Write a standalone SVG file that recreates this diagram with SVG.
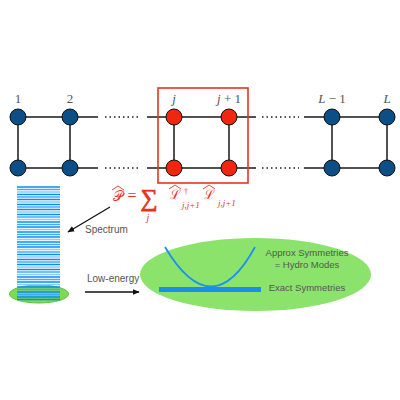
<svg xmlns="http://www.w3.org/2000/svg" width="400" height="400" viewBox="0 0 400 400">
<defs>
<style>
.edge{stroke:#1a1a1a;stroke-width:1.5;fill:none}
.dots{stroke:#1a1a1a;stroke-width:1.6;fill:none;stroke-dasharray:1.5 3}
.bn{fill:#0b4f86;stroke:#111;stroke-width:1}
.rn{fill:#f0260f;stroke:#111;stroke-width:1}
.lab{font-family:"Liberation Serif",serif;font-size:13px;fill:#555}
.it{font-style:italic}
.fr{font-family:"Liberation Serif","DejaVu Serif",serif;fill:#e8321e}
.sc{font-family:"DejaVu Serif","Liberation Serif",serif;fill:#e8321e}
.hat{stroke:#e8321e;stroke-width:0.9;fill:none}
.gt{font-family:"Liberation Sans",Arial,sans-serif;fill:#555}
.s1{stroke:#0a8cf0;stroke-width:1.3}
.s2{stroke:#45aaff;stroke-width:1.3}
.s3{stroke:#8ccaff;stroke-width:1.3}
</style>
<marker id="ah" viewBox="0 0 10 10" refX="9" refY="5" markerWidth="7" markerHeight="7" orient="auto" markerUnits="userSpaceOnUse">
<path d="M0,1 L10,5 L0,9 z" fill="#111"/>
</marker>
</defs>
<rect width="400" height="400" fill="#fff"/>

<g id="connectors">
<path class="edge" d="M18,117 H98 M147,117 H256 M304,117 H387 M18,168 H98 M147,168 H256 M304,168 H387"/>
<path class="edge" d="M18,117 V168 M70,117 V168 M174,117 V168 M229,117 V168 M332,117 V168 M387,117 V168"/>
<path class="dots" d="M105,117 H138 M105,168 H138 M262,117 H299 M262,168 H299"/>
<line x1="110" y1="207" x2="68" y2="232" stroke="#111" stroke-width="1.3" marker-end="url(#ah)"/>
<line x1="85" y1="292" x2="139" y2="292" stroke="#111" stroke-width="1.3" marker-end="url(#ah)"/>
</g>

<g id="box">
<rect x="158" y="88" width="90" height="95" fill="none" stroke="#e8321e" stroke-width="1.6"/>
</g>

<g id="node-1"><circle class="bn" cx="18" cy="117" r="8"/><text class="lab" x="18" y="103" text-anchor="middle">1</text></g>
<g id="node-1b"><circle class="bn" cx="18" cy="168" r="8"/></g>
<g id="node-2"><circle class="bn" cx="70" cy="117" r="8"/><text class="lab" x="70" y="103" text-anchor="middle">2</text></g>
<g id="node-2b"><circle class="bn" cx="70" cy="168" r="8"/></g>
<g id="node-j"><circle class="rn" cx="174" cy="117" r="8"/><text class="lab it" x="174" y="103" text-anchor="middle">j</text></g>
<g id="node-jb"><circle class="rn" cx="174" cy="168" r="8"/></g>
<g id="node-j1"><circle class="rn" cx="229" cy="117" r="8"/><text class="lab" x="229" y="103" text-anchor="middle"><tspan class="it">j</tspan> + 1</text></g>
<g id="node-j1b"><circle class="rn" cx="229" cy="168" r="8"/></g>
<g id="node-L1"><circle class="bn" cx="332" cy="117" r="8"/><text class="lab" x="332" y="103" text-anchor="middle"><tspan class="it">L</tspan> − 1</text></g>
<g id="node-L1b"><circle class="bn" cx="332" cy="168" r="8"/></g>
<g id="node-L"><circle class="bn" cx="387" cy="117" r="8"/><text class="lab it" x="387" y="103" text-anchor="middle">L</text></g>
<g id="node-Lb"><circle class="bn" cx="387" cy="168" r="8"/></g>

<g id="formula">
<text class="sc" x="118" y="201" font-size="14" text-anchor="middle">𝒫</text>
<path class="hat" d="M112,190 L118,186 L124,190"/>
<text class="fr" x="132" y="201" font-size="16" text-anchor="middle">=</text>
<text class="fr" x="149" y="206" font-size="24" text-anchor="middle" stroke="#e8321e" stroke-width="0.8">∑</text>
<text class="fr it" x="148" y="221" font-size="10" text-anchor="middle">j</text>
<text class="sc" x="175" y="199" font-size="13" text-anchor="middle">ℒ</text>
<path class="hat" d="M169,189 L175,185 L181,189"/>
<text class="fr" x="184" y="194" font-size="8">†</text>
<text class="fr it" x="182" y="208" font-size="9">j,j+1</text>
<text class="sc" x="209" y="199" font-size="13" text-anchor="middle">ℒ</text>
<path class="hat" d="M203,189 L209,185 L215,189"/>
<text class="fr it" x="218" y="206" font-size="9">j,j+1</text>
</g>

<g id="spectrum">
<ellipse cx="39" cy="294" rx="29.5" ry="9" fill="#7ed957" stroke="#5ec43c" stroke-width="1"/>
<g>
<line class="s1" x1="17" x2="60" y1="187" y2="187"/>
<line class="s2" x1="17" x2="60" y1="189.5" y2="189.5"/>
<line class="s3" x1="17" x2="60" y1="192" y2="192"/>
<line class="s1" x1="17" x2="60" y1="194.5" y2="194.5"/>
<line class="s2" x1="17" x2="60" y1="197" y2="197"/>
<line class="s1" x1="17" x2="60" y1="199.5" y2="199.5"/>
<line class="s3" x1="17" x2="60" y1="202" y2="202"/>
<line class="s1" x1="17" x2="60" y1="204.5" y2="204.5"/>
<line class="s2" x1="17" x2="60" y1="207" y2="207"/>
<line class="s1" x1="17" x2="60" y1="209.5" y2="209.5"/>
<line class="s3" x1="17" x2="60" y1="212" y2="212"/>
<line class="s1" x1="17" x2="60" y1="214.5" y2="214.5"/>
<line class="s2" x1="17" x2="60" y1="217" y2="217"/>
<line class="s3" x1="17" x2="60" y1="219.5" y2="219.5"/>
<line class="s1" x1="17" x2="60" y1="222" y2="222"/>
<line class="s2" x1="17" x2="60" y1="224.5" y2="224.5"/>
<line class="s1" x1="17" x2="60" y1="227" y2="227"/>
<line class="s3" x1="17" x2="60" y1="229.5" y2="229.5"/>
<line class="s1" x1="17" x2="60" y1="232" y2="232"/>
<line class="s2" x1="17" x2="60" y1="234.5" y2="234.5"/>
<line class="s1" x1="17" x2="60" y1="237" y2="237"/>
<line class="s3" x1="17" x2="60" y1="239.5" y2="239.5"/>
<line class="s1" x1="17" x2="60" y1="242" y2="242"/>
<line class="s2" x1="17" x2="60" y1="244.5" y2="244.5"/>
<line class="s1" x1="17" x2="60" y1="247" y2="247"/>
<line class="s3" x1="17" x2="60" y1="249.5" y2="249.5"/>
<line class="s2" x1="17" x2="60" y1="252" y2="252"/>
<line class="s1" x1="17" x2="60" y1="254.5" y2="254.5"/>
<line class="s3" x1="17" x2="60" y1="257" y2="257"/>
<line class="s1" x1="17" x2="60" y1="259.5" y2="259.5"/>
<line class="s2" x1="17" x2="60" y1="262" y2="262"/>
<line class="s1" x1="17" x2="60" y1="264.5" y2="264.5"/>
<line class="s3" x1="17" x2="60" y1="267" y2="267"/>
<line class="s1" x1="17" x2="60" y1="269.5" y2="269.5"/>
<line class="s2" x1="17" x2="60" y1="272" y2="272"/>
<line class="s3" x1="17" x2="60" y1="274.5" y2="274.5"/>
<line class="s1" x1="17" x2="60" y1="277" y2="277"/>
<line class="s2" x1="17" x2="60" y1="279.5" y2="279.5"/>
<line class="s1" x1="17" x2="60" y1="282" y2="282"/>
<line class="s3" x1="17" x2="60" y1="284.5" y2="284.5"/>
<line class="s1" x1="17" x2="60" y1="287" y2="287"/>
<line class="s2" x1="17" x2="60" y1="289.5" y2="289.5"/>
<line class="s1" x1="17" x2="60" y1="292" y2="292"/>
<line class="s2" x1="17" x2="60" y1="294.5" y2="294.5"/>
<line class="s1" x1="17" x2="60" y1="297" y2="297"/>
<line class="s1" x1="17" x2="60" y1="299.5" y2="299.5"/>
</g>
</g>

<g id="labels">
<text class="gt" x="85" y="233" font-size="10">Spectrum</text>
<text class="gt" x="87" y="282" font-size="10">Low-energy</text>
</g>

<g id="lowenergy">
<ellipse cx="255.5" cy="274.5" rx="115.5" ry="36.5" fill="#8be36b"/>
<path d="M165,247 Q212,326 255,247" fill="none" stroke="#1e8ff5" stroke-width="1.8"/>
<rect x="159" y="287" width="102" height="5" fill="#1a8fe8"/>
<text class="gt" x="307" y="256" font-size="9.5" text-anchor="middle">Approx Symmetries</text>
<text class="gt" x="307" y="268" font-size="9.5" text-anchor="middle">= Hydro Modes</text>
<text class="gt" x="307" y="291" font-size="9.5" text-anchor="middle">Exact Symmetries</text>
</g>
</svg>
